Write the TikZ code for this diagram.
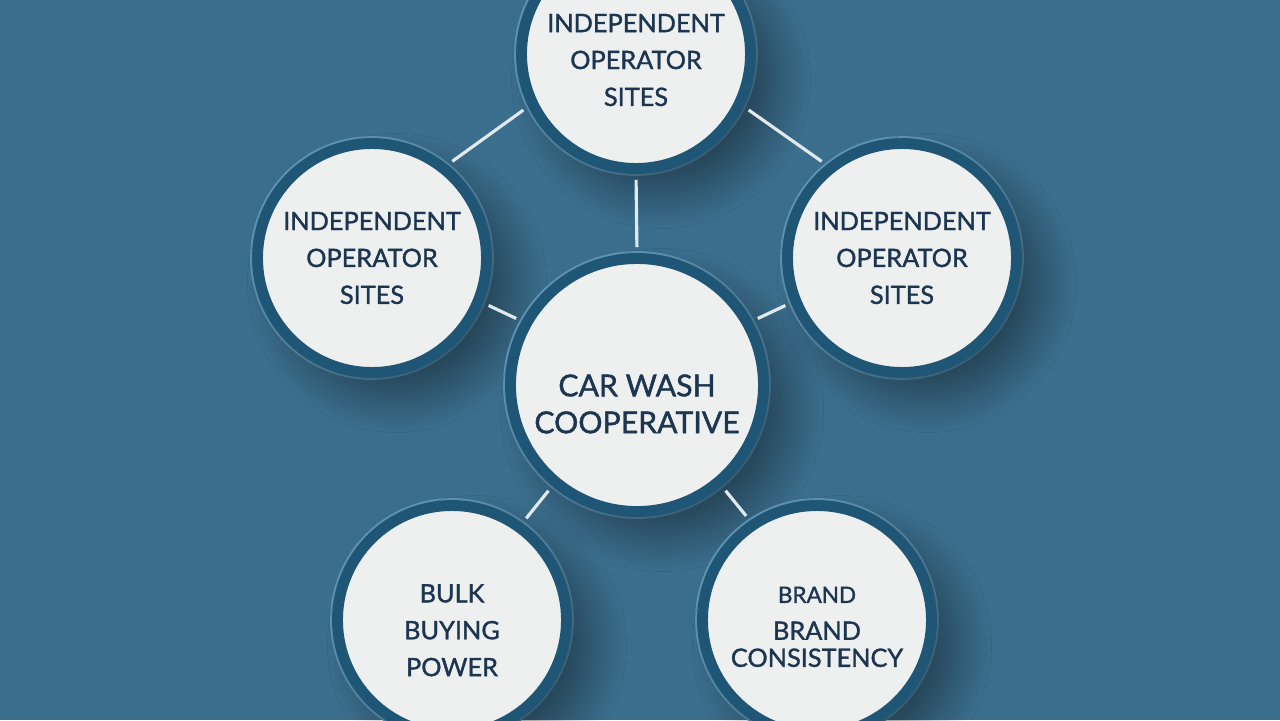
\documentclass[tikz,border=0pt]{standalone}
\usepackage{fontspec}
\setsansfont{Lato}[UprightFeatures={FakeBold=1.3}]
\usetikzlibrary{shadows.blur}
\definecolor{bg}{HTML}{3B6E8D}
\definecolor{rim}{HTML}{1F5676}
\definecolor{rimlight}{HTML}{5F93B2}
\definecolor{face}{HTML}{EEF0F0}
\definecolor{ink}{HTML}{1C3550}
\begin{document}
\begin{tikzpicture}[x=0.1mm,y=-0.1mm,
      site/.style={circle, draw=rim, line width=3.1pt, fill=face, inner sep=0pt, minimum size=22.9mm, align=center, text=ink,
        font=\sffamily\fontsize{7.2}{10.5}\selectfont,
        preaction={draw=rimlight, line width=4.2pt},
        blur shadow={shadow xshift=2.5mm, shadow yshift=-2.5mm, shadow blur radius=3.5mm, shadow blur steps=24, shadow opacity=40}},
      hub/.style={site, minimum size=25.3mm, font=\sffamily\fontsize{8.6}{10.5}\selectfont},
      link/.style={draw=white!85!bg, line width=0.9pt, shorten <=1.7pt, shorten >=1.7pt}]

\fill[bg] (0,0) rectangle (1280,720);
\useasboundingbox (0,0) rectangle (1280,720);
\clip (0,0) rectangle (1280,720);

\node[site] (top) at (636,54) {\rule{0pt}{8.6pt}INDEPENDENT\\OPERATOR\\SITES};
\node[site] (left) at (372,258) {INDEPENDENT\\OPERATOR\\SITES};
\node[site] (right) at (902,258) {INDEPENDENT\\OPERATOR\\SITES};
\node[hub] (coop) at (637,385) {\rule{0pt}{17pt}CAR WASH\\COOPERATIVE};
\node[site] (bulk) at (452,620) {\rule{0pt}{11pt}BULK\\BUYING\\POWER};
\node[site] (brand) at (817,620) {{\fontsize{6.4}{8}\selectfont\rule{0pt}{8.5pt}BRAND}\\BRAND\\[-2.8pt]CONSISTENCY};

\draw[link] (top.206) -- (left.51);
\draw[link] (top.334) -- (right.129);
\draw[link] (top.south) -- (coop.north);
\draw[link] (left.338) -- (coop.151);
\draw[link] (right.202) -- (coop.29);
\draw[link] (coop.230) -- (bulk.54);
\draw[link] (coop.310) -- (brand.124);

\end{tikzpicture}
\end{document}
